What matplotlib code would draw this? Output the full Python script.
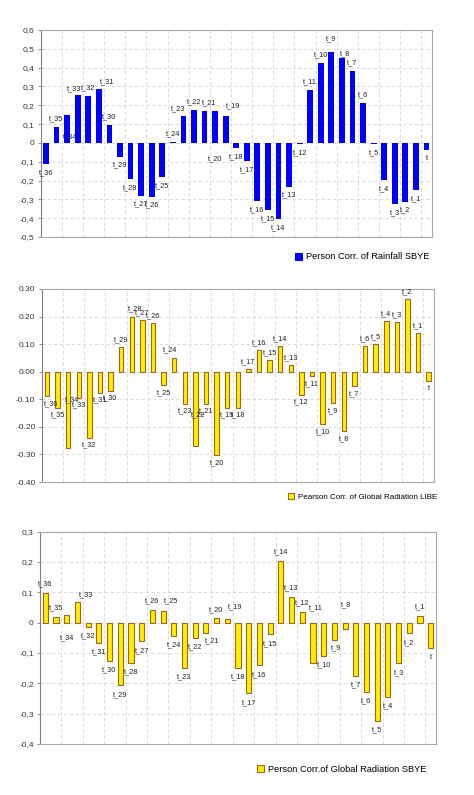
import matplotlib

matplotlib.use("Agg")
import matplotlib.pyplot as plt
from matplotlib.patches import Patch
from matplotlib.ticker import FuncFormatter

plt.rcParams["font.family"] = ["Liberation Sans", "DejaVu Sans"]

# categories, oldest lag first
lags = ["t_%d" % i for i in range(36, 0, -1)] + ["t"]

rain_sbye = [-0.113, 0.085, 0.147, 0.254, 0.247, 0.286, 0.097, -0.074, -0.193,
             -0.280, -0.286, -0.182, 0.005, 0.145, 0.173, 0.171, 0.171, 0.141,
             -0.027, -0.097, -0.310, -0.357, -0.405, -0.234, -0.006, 0.280,
             0.425, 0.483, 0.453, 0.384, 0.214, -0.006, -0.198, -0.326, -0.313,
             -0.251, -0.039]

rad_libe = [-0.088, -0.130, -0.277, -0.095, -0.240, -0.077, -0.070, 0.090, 0.200,
            0.186, 0.178, -0.049, 0.049, -0.116, -0.269, -0.116, -0.303, -0.130,
            -0.130, 0.011, 0.077, 0.041, 0.092, 0.025, -0.083, -0.017, -0.190,
            -0.115, -0.216, -0.052, 0.095, 0.100, 0.185, 0.180, 0.263, 0.142,
            -0.033]

rad_sbye = [0.098, 0.020, 0.024, 0.067, -0.013, -0.066, -0.126, -0.207, -0.133,
            -0.062, 0.042, 0.039, -0.043, -0.150, -0.049, -0.033, 0.014, 0.012,
            -0.150, -0.233, -0.141, -0.039, 0.205, 0.085, 0.035, -0.132, -0.110,
            -0.057, -0.021, -0.175, -0.228, -0.325, -0.245, -0.134, -0.035, 0.022,
            -0.084]

# data labels that Excel left out of the usual place: name -> (x shift, y centre)
moved_1 = {"t_34": (0.3, 0.03), "t_20": (0.0, -0.085), "t_9": (0.0, 0.555),
           "t_31": (0.8, 0.327), "t_8": (0.25, 0.474), "t_19": (0.75, 0.196),
           "t_21": (0.4, 0.215), "t_23": (-0.5, 0.18), "t_33": (-0.3, 0.29)}
moved_2 = {"t_34": (0.35, -0.10), "t_22": (0.25, -0.155), "t_24": (-0.35, 0.08),
           "t_28": (0.35, 0.228), "t_36": (0.35, -0.117)}
moved_3 = {"t_34": (0.05, -0.05), "t_33": (0.85, 0.092), "t_25": (0.7, 0.072),
           "t_21": (0.6, -0.06), "t_19": (0.75, 0.051), "t_11": (0.3, 0.05),
           "t_8": (0.1, 0.06), "t_9": (0.2, -0.083)}


def comma_fmt(v, _pos):
    if abs(v) < 1e-9:
        return "0"
    return ("%.1f" % v).replace(".", ",")


def dot_fmt(v, _pos):
    return "%.2f" % v


def draw_panel(ax, values, face, edge, width, ylim, fmt, moved, gap):
    x = list(range(len(lags)))
    ax.bar(x, values, width=width, color=face, edgecolor=edge,
           linewidth=0.8 if edge else 0, zorder=3)
    ax.set_xlim(-0.5, len(lags) - 0.5)
    ax.set_ylim(*ylim)
    n = int(round((ylim[1] - ylim[0]) / 0.1))
    ax.set_yticks([ylim[0] + i * 0.1 for i in range(n + 1)])
    ax.yaxis.set_major_formatter(FuncFormatter(fmt))
    ax.set_xticks([])
    for gx in range(1, len(lags) // 2 + 1):
        ax.axvline(-0.5 + 2 * gx, color="#d4d4d4", lw=0.6,
                   ls=(0, (4, 3)), zorder=1)
    ax.grid(axis="y", color="#d4d4d4", lw=0.6, ls=(0, (4, 3)), zorder=1)
    ax.tick_params(axis="y", labelsize=6, labelcolor="#333333", length=2.5,
                   width=0.6, color="#808080", pad=2)
    for side in ("top", "right", "bottom"):
        ax.spines[side].set_color("#a6a6a6")
        ax.spines[side].set_linewidth(0.8)
    ax.spines["left"].set_color("#808080")
    ax.spines["left"].set_linewidth(0.8)

    for xi, (name, v) in enumerate(zip(lags, values)):
        if name in moved:
            dx, ty = moved[name]
            ax.text(xi + dx, ty, name, ha="center", va="center",
                    fontsize=5.3, color="#222222", zorder=4)
            continue
        off = gap if v >= 0 else -gap
        ax.annotate(name, (xi, v), xytext=(0, off), textcoords="offset points",
                    ha="center", va="center", fontsize=5.3, color="#222222",
                    zorder=4)


fig = plt.figure(figsize=(4.74, 7.95), dpi=100)

ax1 = fig.add_axes([0.0859, 0.7019, 0.911 - 0.0859, 0.9623 - 0.7019])
draw_panel(ax1, rain_sbye, "#0000ff", None, 0.55, (-0.5, 0.6), comma_fmt,
           moved_1, 6)

ax2 = fig.add_axes([0.088, 0.3937, 0.9156 - 0.088, 0.6365 - 0.3937])
draw_panel(ax2, rad_libe, "#ffee00", "#a0661a", 0.42, (-0.4, 0.3), dot_fmt,
           moved_2, 5.2)

ax3 = fig.add_axes([0.0844, 0.0642, 0.92 - 0.0844, 0.3312 - 0.0642])
draw_panel(ax3, rad_sbye, "#ffee00", "#a0661a", 0.48, (-0.4, 0.3), comma_fmt,
           moved_3, 6.5)

legends = [
    ("Person Corr. of Rainfall SBYE", "#0000ff", "#0000ff", 295, 257, 6.7),
    ("Pearson Corr. of Global Radiation LIBE", "#ffee00", "#a0661a", 288, 497, 5.8),
    ("Person Corr.of Global Radiation SBYE", "#ffee00", "#a0661a", 257, 769, 6.7),
]
for text, face, edge, px, py, fs in legends:
    handle = Patch(facecolor=face, edgecolor=edge, linewidth=0.8, label=text)
    fig.legend(handles=[handle], loc="center left",
               bbox_to_anchor=(px / 474, 1 - py / 795), frameon=False,
               fontsize=fs, handlelength=0.8, handleheight=0.8,
               handletextpad=0.4, borderpad=0, borderaxespad=0)

fig.savefig("out.png", dpi=100)
